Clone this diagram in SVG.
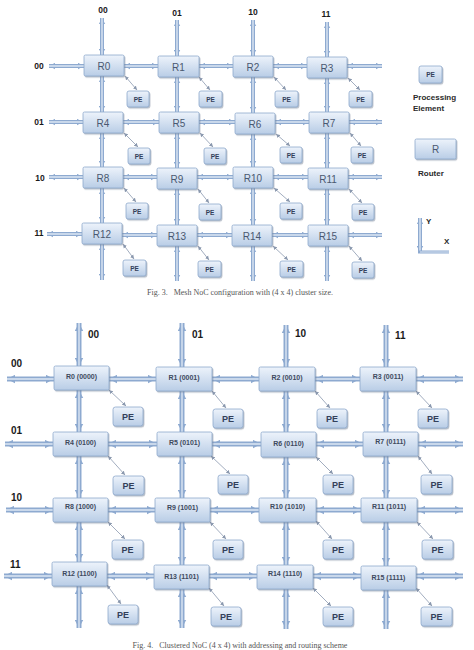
<svg xmlns="http://www.w3.org/2000/svg" width="474" height="650" viewBox="0 0 474 650">
<defs>
<linearGradient id="gr" x1="0" y1="0" x2="0" y2="1">
<stop offset="0" stop-color="#edf3fb"/><stop offset="1" stop-color="#b9cde6"/>
</linearGradient>
<filter id="sh" x="-20%" y="-20%" width="150%" height="160%">
<feDropShadow dx="1" dy="1.2" stdDeviation="0.7" flood-color="#6a7a90" flood-opacity="0.5"/>
</filter>
<marker id="a1" markerUnits="userSpaceOnUse" markerWidth="7" markerHeight="7" refX="6" refY="3.5" orient="auto-start-reverse"><path d="M0,0.3 L6,3.5 L0,6.7 z" fill="#8eaad0"/></marker>
<marker id="a2" markerUnits="userSpaceOnUse" markerWidth="9" markerHeight="9" refX="8" refY="4.5" orient="auto-start-reverse"><path d="M0,0.3 L8,4.5 L0,8.7 z" fill="#8eaad0"/></marker>
<marker id="a3" markerUnits="userSpaceOnUse" markerWidth="5" markerHeight="5" refX="4" refY="2.5" orient="auto-start-reverse"><path d="M0,0.5 L4,2.5 L0,4.5 z" fill="#8a98ae"/></marker>
</defs>
<style>
.r{fill:url(#gr);stroke:#8ea8cc;stroke-width:0.8;filter:url(#sh)}
.t1{font-family:"Liberation Sans",Arial,sans-serif;font-size:10px;fill:#4a5870;text-anchor:middle}
.t2{font-family:"Liberation Sans",Arial,sans-serif;font-size:7px;font-weight:bold;fill:#3e4a5e;text-anchor:middle}
.p1{font-family:"Liberation Sans",Arial,sans-serif;font-size:6.5px;font-weight:bold;fill:#33405a;text-anchor:middle}
.p2{font-family:"Liberation Sans",Arial,sans-serif;font-size:9px;font-weight:bold;fill:#33405a;text-anchor:middle}
.lb{font-family:"Liberation Sans",Arial,sans-serif;font-size:8.5px;font-weight:bold;fill:#1a1a1a}
.lb2{font-family:"Liberation Sans",Arial,sans-serif;font-size:10px;font-weight:bold;fill:#1a1a1a}
.lg{font-family:"Liberation Sans",Arial,sans-serif;font-size:8px;font-weight:bold;fill:#2a2a2a}
.cap{font-family:"Liberation Serif","Times New Roman",serif;font-size:8px;fill:#555;text-anchor:middle}
.o1 line{stroke:#8eaad0;stroke-width:4;marker-start:url(#a1);marker-end:url(#a1)}
.o2 line{stroke:#8eaad0;stroke-width:5;marker-start:url(#a2);marker-end:url(#a2)}
.in line{stroke:#dde7f4;stroke-width:1.4}
.d line{stroke:#8a98ae;stroke-width:0.8;marker-start:url(#a3);marker-end:url(#a3)}
</style>
<rect width="474" height="650" fill="#fff"/>

<g id="connectors">
<g class="o1" id="top-links">
<line x1="102" y1="18" x2="102" y2="55"/><line x1="102" y1="76" x2="102" y2="112"/><line x1="102" y1="133" x2="102" y2="167"/><line x1="102" y1="188" x2="102" y2="223"/><line x1="102" y1="244" x2="102" y2="280"/>
<line x1="177" y1="20" x2="177" y2="56"/><line x1="177" y1="77" x2="177" y2="112"/><line x1="177" y1="133" x2="177" y2="168"/><line x1="177" y1="189" x2="177" y2="225"/><line x1="177" y1="246" x2="177" y2="281"/>
<line x1="253" y1="20" x2="253" y2="56"/><line x1="253" y1="77" x2="253" y2="113"/><line x1="253" y1="134" x2="253" y2="167"/><line x1="253" y1="188" x2="253" y2="225"/><line x1="253" y1="246" x2="253" y2="281"/>
<line x1="327" y1="22" x2="327" y2="57"/><line x1="327" y1="78" x2="327" y2="112"/><line x1="327" y1="133" x2="327" y2="168"/><line x1="327" y1="189" x2="327" y2="225"/><line x1="327" y1="246" x2="327" y2="281"/>
<line x1="49" y1="66" x2="84" y2="66"/><line x1="124" y1="66" x2="158" y2="66"/><line x1="199" y1="66" x2="233" y2="66"/><line x1="273" y1="66" x2="307" y2="66"/><line x1="347" y1="66" x2="382" y2="66"/>
<line x1="49" y1="122" x2="83" y2="122"/><line x1="123" y1="122" x2="159" y2="122"/><line x1="199" y1="122" x2="235" y2="122"/><line x1="275" y1="122" x2="309" y2="122"/><line x1="349" y1="122" x2="382" y2="122"/>
<line x1="49" y1="177" x2="83" y2="177"/><line x1="123" y1="177" x2="157" y2="177"/><line x1="197" y1="177" x2="233" y2="177"/><line x1="273" y1="177" x2="308" y2="177"/><line x1="348" y1="177" x2="382" y2="177"/>
<line x1="47" y1="234" x2="82" y2="234"/><line x1="122" y1="235" x2="157" y2="235"/><line x1="197" y1="235" x2="232" y2="235"/><line x1="272" y1="235" x2="308" y2="235"/><line x1="348" y1="235" x2="382" y2="235"/>
<line x1="420" y1="252" x2="420" y2="218"/>
</g>
<g class="in">
<line x1="102" y1="18" x2="102" y2="55"/><line x1="102" y1="76" x2="102" y2="112"/><line x1="102" y1="133" x2="102" y2="167"/><line x1="102" y1="188" x2="102" y2="223"/><line x1="102" y1="244" x2="102" y2="280"/>
<line x1="177" y1="20" x2="177" y2="56"/><line x1="177" y1="77" x2="177" y2="112"/><line x1="177" y1="133" x2="177" y2="168"/><line x1="177" y1="189" x2="177" y2="225"/><line x1="177" y1="246" x2="177" y2="281"/>
<line x1="253" y1="20" x2="253" y2="56"/><line x1="253" y1="77" x2="253" y2="113"/><line x1="253" y1="134" x2="253" y2="167"/><line x1="253" y1="188" x2="253" y2="225"/><line x1="253" y1="246" x2="253" y2="281"/>
<line x1="327" y1="22" x2="327" y2="57"/><line x1="327" y1="78" x2="327" y2="112"/><line x1="327" y1="133" x2="327" y2="168"/><line x1="327" y1="189" x2="327" y2="225"/><line x1="327" y1="246" x2="327" y2="281"/>
<line x1="49" y1="66" x2="84" y2="66"/><line x1="124" y1="66" x2="158" y2="66"/><line x1="199" y1="66" x2="233" y2="66"/><line x1="273" y1="66" x2="307" y2="66"/><line x1="347" y1="66" x2="382" y2="66"/>
<line x1="49" y1="122" x2="83" y2="122"/><line x1="123" y1="122" x2="159" y2="122"/><line x1="199" y1="122" x2="235" y2="122"/><line x1="275" y1="122" x2="309" y2="122"/><line x1="349" y1="122" x2="382" y2="122"/>
<line x1="49" y1="177" x2="83" y2="177"/><line x1="123" y1="177" x2="157" y2="177"/><line x1="197" y1="177" x2="233" y2="177"/><line x1="273" y1="177" x2="308" y2="177"/><line x1="348" y1="177" x2="382" y2="177"/>
<line x1="47" y1="234" x2="82" y2="234"/><line x1="122" y1="235" x2="157" y2="235"/><line x1="197" y1="235" x2="232" y2="235"/><line x1="272" y1="235" x2="308" y2="235"/><line x1="348" y1="235" x2="382" y2="235"/>
<line x1="420" y1="252" x2="420" y2="218"/>
</g>
<line x1="418" y1="252" x2="449" y2="252" stroke="#8eaad0" stroke-width="3"/>
<line x1="420" y1="252" x2="449" y2="252" stroke="#dde7f4" stroke-width="1"/>

<g class="o2" id="bottom-links">
<line x1="79" y1="323" x2="79" y2="366"/><line x1="79" y1="390" x2="79" y2="432"/><line x1="79" y1="456" x2="79" y2="498"/><line x1="79" y1="522" x2="79" y2="562"/><line x1="79" y1="586" x2="79" y2="628"/>
<line x1="182" y1="323" x2="182" y2="367"/><line x1="182" y1="391" x2="182" y2="432"/><line x1="182" y1="456" x2="182" y2="498"/><line x1="182" y1="522" x2="182" y2="565"/><line x1="182" y1="589" x2="182" y2="628"/>
<line x1="286" y1="325" x2="286" y2="367"/><line x1="286" y1="391" x2="286" y2="432"/><line x1="286" y1="457" x2="286" y2="498"/><line x1="286" y1="522" x2="286" y2="565"/><line x1="286" y1="589" x2="286" y2="629"/>
<line x1="386" y1="325" x2="386" y2="367"/><line x1="386" y1="391" x2="386" y2="432"/><line x1="386" y1="456" x2="386" y2="498"/><line x1="386" y1="522" x2="386" y2="566"/><line x1="386" y1="590" x2="386" y2="629"/>
<line x1="7" y1="379" x2="54" y2="379"/><line x1="109" y1="379" x2="156" y2="379"/><line x1="212" y1="379" x2="259" y2="379"/><line x1="315" y1="379" x2="360" y2="379"/><line x1="416" y1="379" x2="463" y2="379"/>
<line x1="5" y1="444" x2="53" y2="444"/><line x1="108" y1="444" x2="157" y2="444"/><line x1="212" y1="444" x2="261" y2="444"/><line x1="316" y1="444" x2="363" y2="444"/><line x1="418" y1="444" x2="463" y2="444"/>
<line x1="6" y1="510" x2="53" y2="510"/><line x1="108" y1="510" x2="155" y2="510"/><line x1="210" y1="510" x2="259" y2="510"/><line x1="316" y1="510" x2="361" y2="510"/><line x1="417" y1="510" x2="463" y2="510"/>
<line x1="4" y1="576" x2="52" y2="576"/><line x1="107" y1="576" x2="154" y2="576"/><line x1="209" y1="576" x2="257" y2="576"/><line x1="313" y1="576" x2="361" y2="576"/><line x1="416" y1="576" x2="463" y2="576"/>
</g>
<g class="in">
<line x1="79" y1="323" x2="79" y2="366"/><line x1="79" y1="390" x2="79" y2="432"/><line x1="79" y1="456" x2="79" y2="498"/><line x1="79" y1="522" x2="79" y2="562"/><line x1="79" y1="586" x2="79" y2="628"/>
<line x1="182" y1="323" x2="182" y2="367"/><line x1="182" y1="391" x2="182" y2="432"/><line x1="182" y1="456" x2="182" y2="498"/><line x1="182" y1="522" x2="182" y2="565"/><line x1="182" y1="589" x2="182" y2="628"/>
<line x1="286" y1="325" x2="286" y2="367"/><line x1="286" y1="391" x2="286" y2="432"/><line x1="286" y1="457" x2="286" y2="498"/><line x1="286" y1="522" x2="286" y2="565"/><line x1="286" y1="589" x2="286" y2="629"/>
<line x1="386" y1="325" x2="386" y2="367"/><line x1="386" y1="391" x2="386" y2="432"/><line x1="386" y1="456" x2="386" y2="498"/><line x1="386" y1="522" x2="386" y2="566"/><line x1="386" y1="590" x2="386" y2="629"/>
<line x1="7" y1="379" x2="54" y2="379"/><line x1="109" y1="379" x2="156" y2="379"/><line x1="212" y1="379" x2="259" y2="379"/><line x1="315" y1="379" x2="360" y2="379"/><line x1="416" y1="379" x2="463" y2="379"/>
<line x1="5" y1="444" x2="53" y2="444"/><line x1="108" y1="444" x2="157" y2="444"/><line x1="212" y1="444" x2="261" y2="444"/><line x1="316" y1="444" x2="363" y2="444"/><line x1="418" y1="444" x2="463" y2="444"/>
<line x1="6" y1="510" x2="53" y2="510"/><line x1="108" y1="510" x2="155" y2="510"/><line x1="210" y1="510" x2="259" y2="510"/><line x1="316" y1="510" x2="361" y2="510"/><line x1="417" y1="510" x2="463" y2="510"/>
<line x1="4" y1="576" x2="52" y2="576"/><line x1="107" y1="576" x2="154" y2="576"/><line x1="209" y1="576" x2="257" y2="576"/><line x1="313" y1="576" x2="361" y2="576"/><line x1="416" y1="576" x2="463" y2="576"/>
</g>

<g class="d" id="pe-links">
<line x1="125" y1="76" x2="137" y2="90"/><line x1="199" y1="77" x2="210" y2="90"/><line x1="274" y1="77" x2="286" y2="90"/><line x1="348" y1="78" x2="360" y2="90"/>
<line x1="124" y1="133" x2="138" y2="147"/><line x1="200" y1="133" x2="213" y2="147"/><line x1="276" y1="134" x2="290" y2="146"/><line x1="350" y1="133" x2="361" y2="146"/>
<line x1="124" y1="188" x2="136" y2="202"/><line x1="198" y1="189" x2="209" y2="203"/><line x1="274" y1="188" x2="290" y2="202"/><line x1="349" y1="189" x2="362" y2="203"/>
<line x1="123" y1="244" x2="134" y2="259"/><line x1="198" y1="246" x2="209" y2="260"/><line x1="273" y1="246" x2="288" y2="260"/><line x1="349" y1="246" x2="362" y2="261"/>
<line x1="109" y1="390" x2="126" y2="406"/><line x1="212" y1="391" x2="226" y2="408"/><line x1="315" y1="391" x2="330" y2="408"/><line x1="416" y1="391" x2="432" y2="408"/>
<line x1="108" y1="456" x2="125" y2="475"/><line x1="211" y1="456" x2="230" y2="474"/><line x1="316" y1="457" x2="333" y2="474"/><line x1="418" y1="456" x2="432" y2="474"/>
<line x1="108" y1="522" x2="125" y2="539"/><line x1="210" y1="522" x2="226" y2="539"/><line x1="316" y1="521" x2="332" y2="539"/><line x1="417" y1="522" x2="433" y2="539"/>
<line x1="107" y1="585" x2="121" y2="604"/><line x1="209" y1="588" x2="224" y2="606"/><line x1="313" y1="588" x2="331" y2="606"/><line x1="416" y1="588" x2="432" y2="606"/>
</g>
</g>

<g id="fig3-routers">
<g id="R0"><rect class="r" x="84" y="55" width="40" height="21" rx="1.5"/><text class="t1" x="104" y="69.5">R0</text></g>
<g id="R1"><rect class="r" x="158" y="56" width="41" height="21" rx="1.5"/><text class="t1" x="178.5" y="70.5">R1</text></g>
<g id="R2"><rect class="r" x="233" y="56" width="40" height="21" rx="1.5"/><text class="t1" x="253" y="70.5">R2</text></g>
<g id="R3"><rect class="r" x="307" y="57" width="40" height="21" rx="1.5"/><text class="t1" x="327" y="71.5">R3</text></g>
<g id="R4"><rect class="r" x="83" y="112" width="40" height="21" rx="1.5"/><text class="t1" x="103" y="126.5">R4</text></g>
<g id="R5"><rect class="r" x="159" y="112" width="40" height="21" rx="1.5"/><text class="t1" x="179" y="126.5">R5</text></g>
<g id="R6"><rect class="r" x="235" y="113" width="40" height="21" rx="1.5"/><text class="t1" x="255" y="127.5">R6</text></g>
<g id="R7"><rect class="r" x="309" y="112" width="40" height="21" rx="1.5"/><text class="t1" x="329" y="126.5">R7</text></g>
<g id="R8"><rect class="r" x="83" y="167" width="40" height="21" rx="1.5"/><text class="t1" x="103" y="181.5">R8</text></g>
<g id="R9"><rect class="r" x="157" y="168" width="40" height="21" rx="1.5"/><text class="t1" x="177" y="182.5">R9</text></g>
<g id="R10"><rect class="r" x="233" y="167" width="40" height="21" rx="1.5"/><text class="t1" x="253" y="181.5">R10</text></g>
<g id="R11"><rect class="r" x="308" y="168" width="40" height="21" rx="1.5"/><text class="t1" x="328" y="182.5">R11</text></g>
<g id="R12"><rect class="r" x="82" y="223" width="40" height="21" rx="1.5"/><text class="t1" x="102" y="237.5">R12</text></g>
<g id="R13"><rect class="r" x="157" y="225" width="40" height="21" rx="1.5"/><text class="t1" x="177" y="239.5">R13</text></g>
<g id="R14"><rect class="r" x="232" y="225" width="40" height="21" rx="1.5"/><text class="t1" x="252" y="239.5">R14</text></g>
<g id="R15"><rect class="r" x="308" y="225" width="40" height="21" rx="1.5"/><text class="t1" x="328" y="239.5">R15</text></g>
</g>

<g id="fig3-pes">
<g id="PE0"><rect class="r" x="127" y="91" width="22" height="16" rx="2"/><text class="p1" x="138" y="101.5">PE</text></g>
<g id="PE1"><rect class="r" x="199" y="91" width="23" height="16" rx="2"/><text class="p1" x="210.5" y="101.5">PE</text></g>
<g id="PE2"><rect class="r" x="275" y="91" width="23" height="16" rx="2"/><text class="p1" x="286.5" y="101.5">PE</text></g>
<g id="PE3"><rect class="r" x="349" y="91" width="23" height="16" rx="2"/><text class="p1" x="360.5" y="101.5">PE</text></g>
<g id="PE4"><rect class="r" x="128" y="148" width="22" height="16" rx="2"/><text class="p1" x="139" y="158.5">PE</text></g>
<g id="PE5"><rect class="r" x="204" y="148" width="22" height="16" rx="2"/><text class="p1" x="215" y="158.5">PE</text></g>
<g id="PE6"><rect class="r" x="280" y="147" width="22" height="16" rx="2"/><text class="p1" x="291" y="157.5">PE</text></g>
<g id="PE7"><rect class="r" x="351" y="147" width="22" height="16" rx="2"/><text class="p1" x="362" y="157.5">PE</text></g>
<g id="PE8"><rect class="r" x="126" y="203" width="22" height="16" rx="2"/><text class="p1" x="137" y="213.5">PE</text></g>
<g id="PE9"><rect class="r" x="199" y="204" width="22" height="16" rx="2"/><text class="p1" x="210" y="214.5">PE</text></g>
<g id="PE10"><rect class="r" x="280" y="203" width="22" height="16" rx="2"/><text class="p1" x="291" y="213.5">PE</text></g>
<g id="PE11"><rect class="r" x="352" y="204" width="22" height="16" rx="2"/><text class="p1" x="363" y="214.5">PE</text></g>
<g id="PE12"><rect class="r" x="123" y="260" width="23" height="16" rx="2"/><text class="p1" x="134.5" y="270.5">PE</text></g>
<g id="PE13"><rect class="r" x="198" y="261" width="23" height="16" rx="2"/><text class="p1" x="209.5" y="271.5">PE</text></g>
<g id="PE14"><rect class="r" x="280" y="261" width="23" height="16" rx="2"/><text class="p1" x="291.5" y="271.5">PE</text></g>
<g id="PE15"><rect class="r" x="352" y="262" width="22" height="16" rx="2"/><text class="p1" x="363" y="272.5">PE</text></g>
</g>

<g id="fig3-labels">
<text class="lb" x="103" y="13" text-anchor="middle">00</text>
<text class="lb" x="177" y="16" text-anchor="middle">01</text>
<text class="lb" x="253" y="15" text-anchor="middle">10</text>
<text class="lb" x="326" y="17" text-anchor="middle">11</text>
<text class="lb" x="39" y="68.5" text-anchor="middle">00</text>
<text class="lb" x="39" y="125" text-anchor="middle">01</text>
<text class="lb" x="40" y="180.5" text-anchor="middle">10</text>
<text class="lb" x="39" y="236" text-anchor="middle">11</text>
</g>

<g id="legend">
<g id="legend-pe"><rect class="r" x="419" y="66" width="23" height="17" rx="2"/><text class="p1" x="430.5" y="77">PE</text></g>
<text class="lg" x="413" y="100">Processing</text>
<text class="lg" x="413" y="111">Element</text>
<g id="legend-r"><rect class="r" x="415" y="139" width="41" height="20" rx="1.5"/><text class="t1" x="435.5" y="153">R</text></g>
<text class="lg" x="418" y="176">Router</text>
<text class="lg" x="426" y="224">Y</text>
<text class="lg" x="444" y="244">X</text>
</g>

<text class="cap" x="240" y="295">Fig. 3.&#160;&#160; Mesh NoC configuration with (4 x 4) cluster size.</text>

<g id="fig4-routers">
<g id="B0"><rect class="r" x="54" y="366" width="55" height="24" rx="1.5"/><text class="t2" x="81.5" y="379">R0 (0000)</text></g>
<g id="B1"><rect class="r" x="156" y="367" width="56" height="24" rx="1.5"/><text class="t2" x="184" y="380">R1 (0001)</text></g>
<g id="B2"><rect class="r" x="259" y="367" width="56" height="24" rx="1.5"/><text class="t2" x="287" y="380">R2 (0010)</text></g>
<g id="B3"><rect class="r" x="360" y="367" width="56" height="24" rx="1.5"/><text class="t2" x="388" y="379">R3 (0011)</text></g>
<g id="B4"><rect class="r" x="53" y="432" width="55" height="24" rx="1.5"/><text class="t2" x="80.5" y="445">R4 (0100)</text></g>
<g id="B5"><rect class="r" x="157" y="432" width="55" height="24" rx="1.5"/><text class="t2" x="184.5" y="445">R5 (0101)</text></g>
<g id="B6"><rect class="r" x="261" y="432" width="55" height="25" rx="1.5"/><text class="t2" x="288.5" y="446">R6 (0110)</text></g>
<g id="B7"><rect class="r" x="363" y="432" width="55" height="24" rx="1.5"/><text class="t2" x="390.5" y="444">R7 (0111)</text></g>
<g id="B8"><rect class="r" x="53" y="498" width="55" height="24" rx="1.5"/><text class="t2" x="80.5" y="509">R8 (1000)</text></g>
<g id="B9"><rect class="r" x="155" y="498" width="55" height="24" rx="1.5"/><text class="t2" x="182.5" y="510">R9 (1001)</text></g>
<g id="B10"><rect class="r" x="259" y="498" width="57" height="24" rx="1.5"/><text class="t2" x="287.5" y="509">R10 (1010)</text></g>
<g id="B11"><rect class="r" x="361" y="498" width="56" height="24" rx="1.5"/><text class="t2" x="389" y="509">R11 (1011)</text></g>
<g id="B12"><rect class="r" x="52" y="562" width="55" height="24" rx="1.5"/><text class="t2" x="79.5" y="576">R12 (1100)</text></g>
<g id="B13"><rect class="r" x="154" y="565" width="55" height="24" rx="1.5"/><text class="t2" x="181.5" y="579">R13 (1101)</text></g>
<g id="B14"><rect class="r" x="257" y="565" width="56" height="24" rx="1.5"/><text class="t2" x="285" y="576">R14 (1110)</text></g>
<g id="B15"><rect class="r" x="361" y="566" width="55" height="24" rx="1.5"/><text class="t2" x="388.5" y="580">R15 (1111)</text></g>
</g>

<g id="fig4-pes">
<g id="Q0"><rect class="r" x="113" y="407" width="30" height="19" rx="2.5"/><text class="p2" x="128" y="420">PE</text></g>
<g id="Q1"><rect class="r" x="213" y="409" width="30" height="19" rx="2.5"/><text class="p2" x="228" y="422">PE</text></g>
<g id="Q2"><rect class="r" x="317" y="409" width="30" height="19" rx="2.5"/><text class="p2" x="332" y="422">PE</text></g>
<g id="Q3"><rect class="r" x="418" y="409" width="30" height="19" rx="2.5"/><text class="p2" x="433" y="422">PE</text></g>
<g id="Q4"><rect class="r" x="113" y="476" width="31" height="19" rx="2.5"/><text class="p2" x="128.5" y="489">PE</text></g>
<g id="Q5"><rect class="r" x="218" y="475" width="30" height="19" rx="2.5"/><text class="p2" x="233" y="488">PE</text></g>
<g id="Q6"><rect class="r" x="323" y="475" width="30" height="19" rx="2.5"/><text class="p2" x="338" y="488">PE</text></g>
<g id="Q7"><rect class="r" x="421" y="475" width="31" height="19" rx="2.5"/><text class="p2" x="436.5" y="488">PE</text></g>
<g id="Q8"><rect class="r" x="112" y="540" width="31" height="19" rx="2.5"/><text class="p2" x="127.5" y="553">PE</text></g>
<g id="Q9"><rect class="r" x="213" y="540" width="30" height="19" rx="2.5"/><text class="p2" x="228" y="553">PE</text></g>
<g id="Q10"><rect class="r" x="323" y="540" width="30" height="19" rx="2.5"/><text class="p2" x="338" y="553">PE</text></g>
<g id="Q11"><rect class="r" x="422" y="540" width="31" height="19" rx="2.5"/><text class="p2" x="437.5" y="553">PE</text></g>
<g id="Q12"><rect class="r" x="108" y="605" width="30" height="19" rx="2.5"/><text class="p2" x="123" y="618">PE</text></g>
<g id="Q13"><rect class="r" x="211" y="607" width="30" height="19" rx="2.5"/><text class="p2" x="226" y="620">PE</text></g>
<g id="Q14"><rect class="r" x="323" y="607" width="30" height="19" rx="2.5"/><text class="p2" x="338" y="620">PE</text></g>
<g id="Q15"><rect class="r" x="421" y="607" width="31" height="19" rx="2.5"/><text class="p2" x="436.5" y="620">PE</text></g>
</g>

<g id="fig4-labels">
<text class="lb2" x="88" y="338">00</text>
<text class="lb2" x="192" y="338">01</text>
<text class="lb2" x="295" y="337">10</text>
<text class="lb2" x="395" y="339">11</text>
<text class="lb2" x="11" y="367">00</text>
<text class="lb2" x="11" y="434">01</text>
<text class="lb2" x="11" y="501">10</text>
<text class="lb2" x="10" y="568">11</text>
</g>

<text class="cap" x="240" y="648">Fig. 4.&#160;&#160; Clustered NoC (4 x 4) with addressing and routing scheme</text>
</svg>
